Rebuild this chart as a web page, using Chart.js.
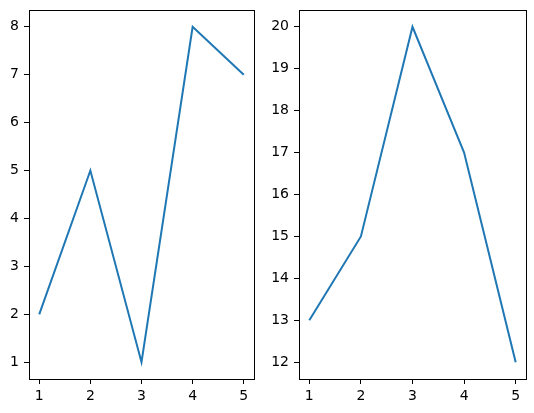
<!DOCTYPE html>
<html>
<head>
<meta charset="utf-8">
<script src="https://cdn.jsdelivr.net/npm/chart.js@4/dist/chart.umd.min.js"></script>
<style>
  html, body { margin: 0; padding: 0; background: #fff; }
  #wrap { position: relative; width: 534px; height: 413px; }
  canvas { position: absolute; top: 0; }
</style>
</head>
<body>
<div id="wrap">
  <canvas id="left" width="262" height="413" style="left:0;width:262px;height:413px"></canvas>
  <canvas id="right" width="272" height="413" style="left:262px;width:272px;height:413px"></canvas>
</div>
<script>
const xValues = [1, 2, 3, 4, 5];
const leftValues = [2, 5, 1, 8, 7];
const rightValues = [13, 15, 20, 17, 12];
const xTicks = [1, 2, 3, 4, 5];
const leftYTicks = [1, 2, 3, 4, 5, 6, 7, 8];
const rightYTicks = [12, 13, 14, 15, 16, 17, 18, 19, 20];

Chart.defaults.font.family = "'DejaVu Sans', sans-serif";
Chart.defaults.font.size = 14;
Chart.defaults.color = "#000";

// matplotlib style frame around the plot area
const frameBox = {
  id: "frameBox",
  afterDraw(chart) {
    const { ctx, chartArea: a } = chart;
    ctx.save();
    ctx.strokeStyle = "#000";
    ctx.lineWidth = 1;
    ctx.strokeRect(Math.round(a.left) + 0.5, Math.round(a.top) + 0.5,
      Math.round(a.right - a.left), Math.round(a.bottom - a.top));
    ctx.restore();
  },
};

// 5% margins like matplotlib autoscale
function padRange(values) {
  const lo = Math.min(...values), hi = Math.max(...values);
  const m = (hi - lo) * 0.05;
  return [lo - m, hi + m];
}

function makeChart(id, values, yTicks, yWidth, padRight) {
  const [xMin, xMax] = padRange(xValues);
  const [yMin, yMax] = padRange(values);
  const axisStyle = {
    grid: { drawOnChartArea: false, drawTicks: true, tickLength: 5, color: "#000", tickWidth: 1 },
    border: { display: false },
  };
  return new Chart(document.getElementById(id), {
    type: "line",
    data: {
      datasets: [{
        data: xValues.map((x, i) => ({ x: x, y: values[i] })),
        borderColor: "#1f77b4",
        borderWidth: 2,
        pointRadius: 0,
        tension: 0,
        fill: false,
      }],
    },
    options: {
      responsive: false,
      animation: false,
      devicePixelRatio: 1,
      layout: { padding: { top: 10, right: padRight, left: 0, bottom: 0 } },
      plugins: { legend: { display: false }, tooltip: { enabled: false } },
      scales: {
        x: {
          type: "linear",
          min: xMin,
          max: xMax,
          ...axisStyle,
          ticks: { padding: 4, autoSkip: false, maxRotation: 0 },
          afterBuildTicks: (s) => { s.ticks = xTicks.map((v) => ({ value: v })); },
          afterFit: (s) => { s.height = 34; s.paddingLeft = 0; s.paddingRight = 0; },
        },
        y: {
          type: "linear",
          min: yMin,
          max: yMax,
          ...axisStyle,
          ticks: { padding: 5, autoSkip: false },
          afterBuildTicks: (s) => { s.ticks = yTicks.map((v) => ({ value: v })); },
          afterFit: (s) => { s.width = yWidth; s.paddingTop = 0; s.paddingBottom = 0; },
        },
      },
    },
    plugins: [frameBox],
  });
}

makeChart("left", leftValues, leftYTicks, 29, 8);
makeChart("right", rightValues, rightYTicks, 37, 8);
</script>
</body>
</html>
